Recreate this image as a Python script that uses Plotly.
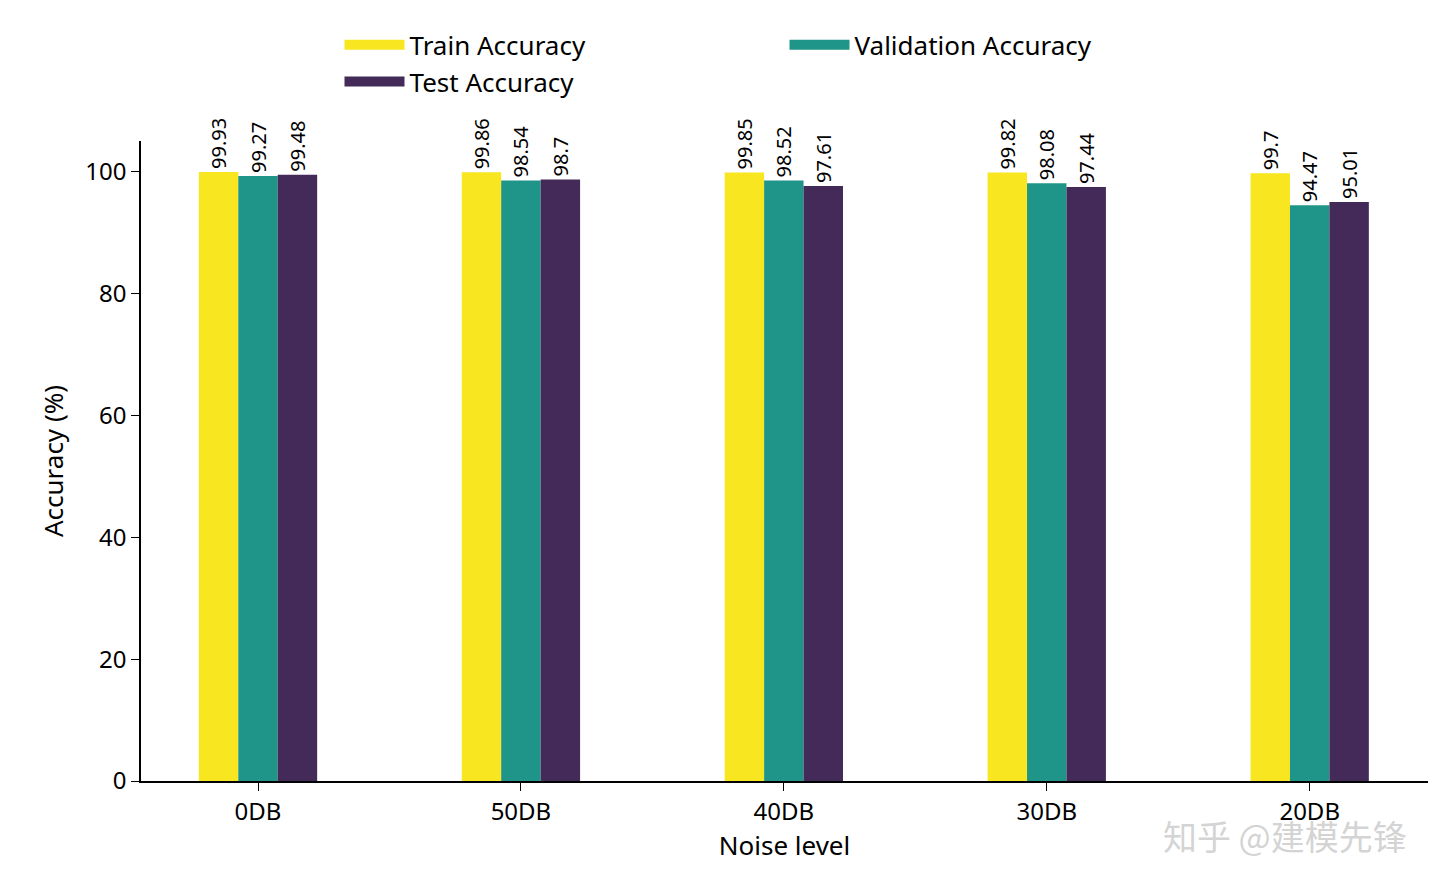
import plotly.graph_objects as go

categories = ["0DB", "50DB", "40DB", "30DB", "20DB"]
train = [99.93, 99.86, 99.85, 99.82, 99.7]
val = [99.27, 98.54, 98.52, 98.08, 94.47]
test = [99.48, 98.7, 97.61, 97.44, 95.01]
names = ["Train Accuracy", "Validation Accuracy", "Test Accuracy"]
colors = ["#f8e621", "#1f9488", "#432a58"]

fig = go.Figure()
for name, vals, c in zip(names, [train, val, test], colors):
    fig.add_trace(go.Bar(
        name=name, x=categories, y=vals, marker_color=c, marker_line_width=0,
        text=[str(v) for v in vals], textposition="outside", textangle=-90,
        constraintext="none", showlegend=False,
        textfont=dict(size=20, color="black"), cliponaxis=False))
for name, c in zip(names, colors):
    fig.add_trace(go.Scatter(x=[None], y=[None], mode="lines", name=name,
                             line=dict(color=c, width=20)))

fig.update_layout(
    width=1440, height=885, barmode="group", bargap=0.55, bargroupgap=0,
    plot_bgcolor="white", paper_bgcolor="white",
    font=dict(family="Noto Sans", size=24, color="black"),
    margin=dict(l=133, r=20, t=133, b=112, autoexpand=False),
    legend=dict(orientation="h", x=0.5, xanchor="center", y=0.985, yref="container",
                yanchor="top", font=dict(size=26), traceorder="normal",
                entrywidth=370, itemwidth=60),
    xaxis=dict(range=[-0.445, 4.45], showline=True, linecolor="black", linewidth=1.5,
               ticks="outside", ticklen=8, tickcolor="black",
               title=dict(text="Noise level", font=dict(size=26), standoff=8)),
    yaxis=dict(range=[0, 105], showline=True, linecolor="black", linewidth=1.5,
               ticks="outside", ticklen=8, tickcolor="black", showgrid=False,
               tickvals=[0, 20, 40, 60, 80, 100], zeroline=False,
               title=dict(text="Accuracy (%)", font=dict(size=26), standoff=14)),
)
fig.add_annotation(text="知乎 @建模先锋", xref="paper", yref="paper", x=0.985, y=-0.085,
                   xanchor="right", yanchor="middle", showarrow=False,
                   font=dict(family="Noto Sans CJK SC", size=34, color="rgba(200,200,200,0.8)"))
fig.write_html("out.html")
